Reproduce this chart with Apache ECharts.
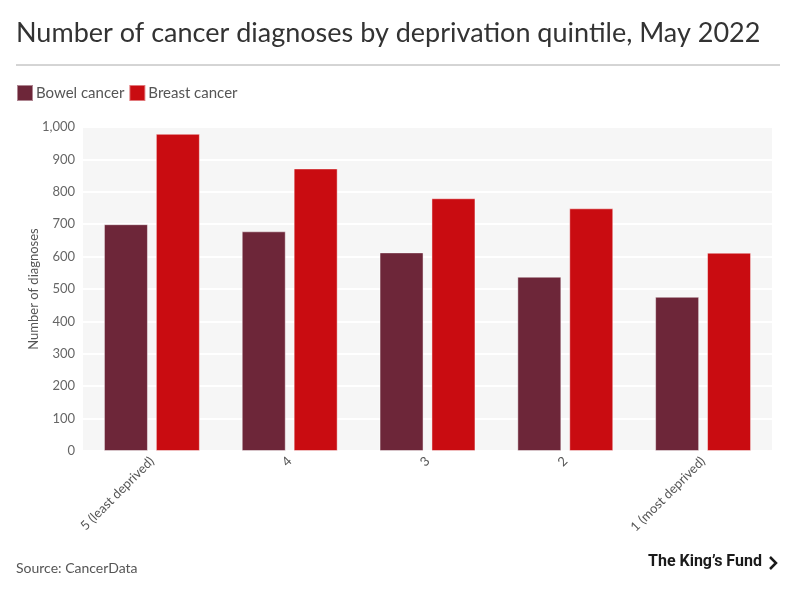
<!DOCTYPE html>
<html>
<head>
<meta charset="utf-8">
<script src="https://cdn.jsdelivr.net/npm/echarts@6/dist/echarts.min.js"></script>
<style>
html, body { margin: 0; padding: 0; background: #fff; }
#chart { width: 796px; height: 594px; }
</style>
</head>
<body>
<div id="chart"></div>
<script>
var quintiles = ['5 (least deprived)', '4', '3', '2', '1 (most deprived)'];
var bowelCancer = [700, 678, 613, 538, 476];
var breastCancer = [979, 872, 780, 749, 612];

var chart = echarts.init(document.getElementById('chart'));
var option = {
    animation: false,
    textStyle: { fontFamily: 'Lato' },
    title: {
        text: 'Number of cancer diagnoses by deprivation quintile, May 2022',
        left: 11,
        top: 15,
        textStyle: { fontFamily: 'Lato', fontSize: 27, fontWeight: 'normal', color: '#333' }
    },
    legend: {
        left: 11,
        top: 79,
        itemWidth: 16,
        itemHeight: 16,
        itemGap: 4,
        icon: 'rect',
        textStyle: { fontSize: 15, color: '#555', padding: [0, 0, 0, -2] },
        data: ['Bowel cancer', 'Breast cancer']
    },
    grid: {
        left: 83,
        right: 24,
        top: 127,
        bottom: 143,
        show: true,
        backgroundColor: '#f6f6f6',
        borderWidth: 0
    },
    xAxis: {
        type: 'category',
        data: quintiles,
        axisLine: { show: false },
        axisTick: { show: false },
        axisLabel: { rotate: 45, color: '#555', fontSize: 13, margin: 8 }
    },
    yAxis: {
        type: 'value',
        min: 0,
        max: 1000,
        interval: 100,
        name: 'Number of diagnoses',
        nameLocation: 'middle',
        nameGap: 43,
        nameMoveOverlap: false,
        nameTextStyle: { color: '#555', fontSize: 13 },
        axisLine: { show: false },
        axisTick: { show: false },
        axisLabel: {
            color: '#666',
            fontSize: 13,
            formatter: function (v) { return v.toLocaleString('en-GB'); }
        },
        splitLine: { lineStyle: { color: '#ffffff', width: 2 } }
    },
    series: [
        {
            name: 'Bowel cancer',
            type: 'bar',
            barWidth: 44,
            barGap: '18%',
            itemStyle: { color: '#6d2639', borderColor: 'rgba(255,255,255,0.45)', borderWidth: 1 },
            data: bowelCancer
        },
        {
            name: 'Breast cancer',
            type: 'bar',
            barWidth: 44,
            itemStyle: { color: '#c90c11', borderColor: 'rgba(255,255,255,0.45)', borderWidth: 1 },
            data: breastCancer
        }
    ],
    graphic: [
        {
            type: 'line',
            shape: { x1: 16, y1: 65, x2: 780, y2: 65 },
            style: { stroke: '#aaa', lineWidth: 1 }
        },
        {
            type: 'text',
            left: 16,
            top: 561,
            style: { text: 'Source: CancerData', fontSize: 14, fill: '#555', fontFamily: 'Lato' }
        },
        {
            type: 'text',
            left: 648,
            top: 554,
            style: { text: 'The King\u2019s Fund', fontSize: 16, fontWeight: 'bold', fill: '#1a1a1a', fontFamily: 'Roboto' }
        },
        {
            type: 'polyline',
            shape: { points: [[770, 557], [776, 563], [770, 569]] },
            style: { stroke: '#1a1a1a', lineWidth: 2.5, fill: null }
        }
    ]
};
chart.setOption(option);
</script>
</body>
</html>
